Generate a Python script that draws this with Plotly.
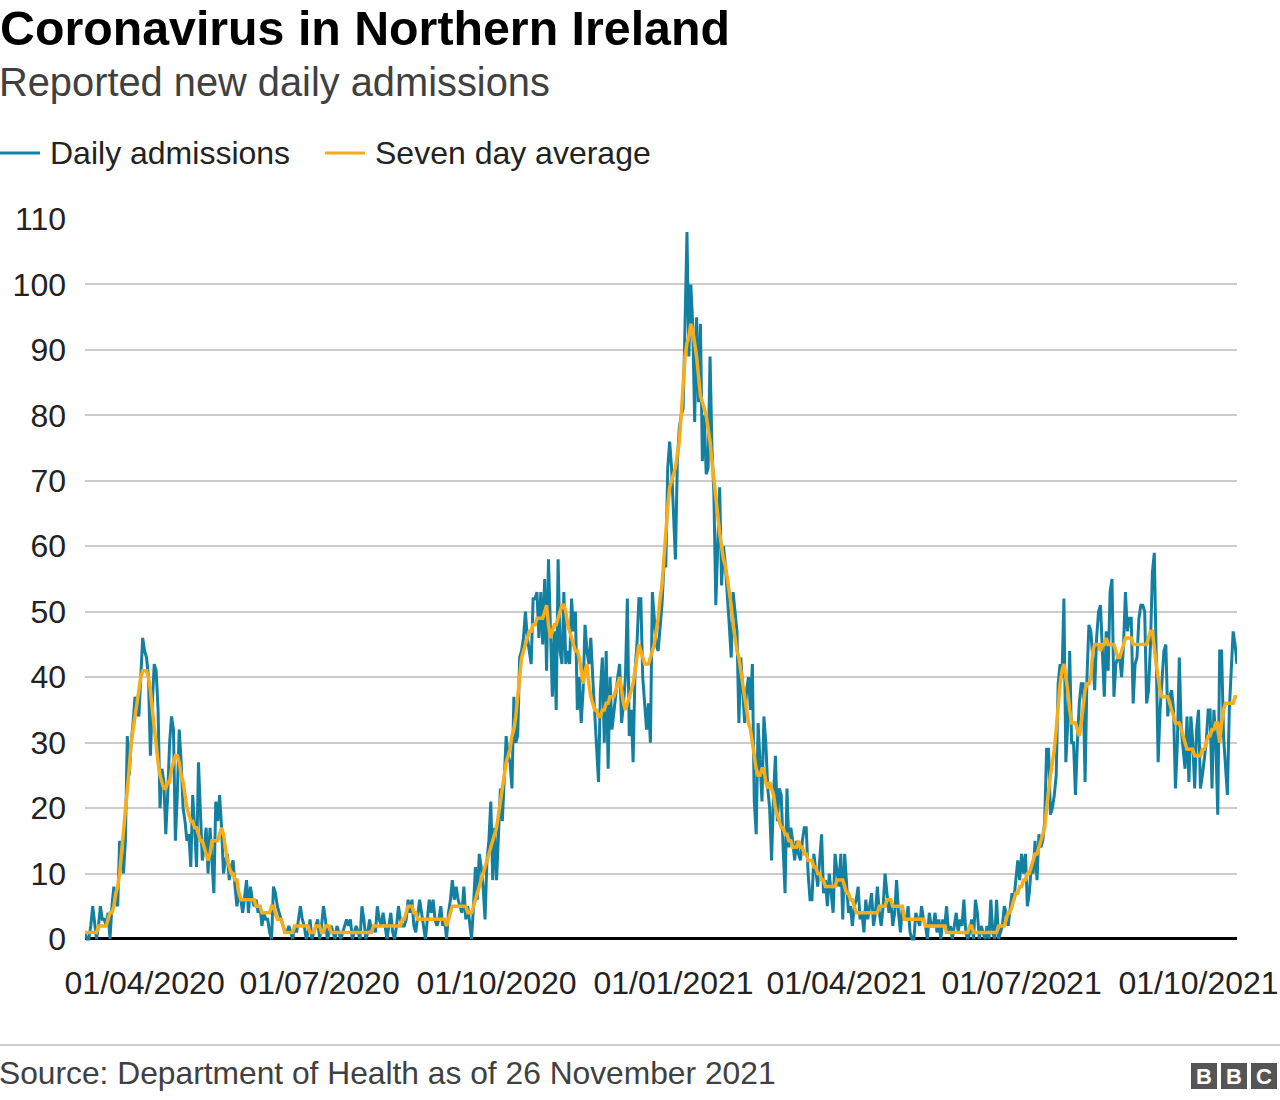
import pandas as pd
import plotly.graph_objects as go

# ---------------- data: reported new daily admissions (one value per day) ----------------
daily_2020_03 = [1,0,0,2,5,2,0,2,5,3,3,2,4,0,5,8,6,5,15,12,10,15,31,25,30,33,37,35,34,40,46]
daily_2020_04 = [44,43,40,28,36,42,41,35,20,26,24,16,22,30,34,32,15,22,32,27,20,18,15,16,11,22,17,11,27,18]
daily_2020_05 = [12,14,17,10,17,12,7,21,18,22,17,10,12,13,9,11,12,8,5,7,6,4,7,9,4,8,6,5,6,4,5]
daily_2020_06 = [2,4,3,3,1,0,8,7,5,4,3,2,1,1,2,1,0,2,1,3,5,3,2,0,1,3,0,1,2,3]
daily_2020_07 = [0,2,5,3,0,1,2,1,0,2,1,0,1,2,3,2,3,0,1,2,1,0,5,3,0,1,3,1,2,1,5]
daily_2020_08 = [3,2,4,2,0,2,4,1,0,2,5,3,2,2,3,6,4,6,2,1,4,6,4,2,0,3,6,4,6,3,2]
daily_2020_09 = [3,5,2,3,0,4,6,9,6,8,6,5,4,8,3,5,2,0,5,11,6,13,11,8,3,12,15,21,9,17]
daily_2020_10 = [9,16,23,18,25,31,28,27,23,37,30,31,43,44,46,50,46,44,42,52,52,53,46,53,45,55,41,58,48,37,47]
daily_2020_11 = [35,58,44,42,53,42,44,42,52,47,50,35,40,33,38,48,44,42,46,40,35,30,24,38,43,30,44,26,40,32]
daily_2020_12 = [35,37,40,42,33,36,40,52,31,35,27,41,45,52,52,40,36,32,36,30,53,49,45,44,47,51,57,57,72,76,72]
daily_2021_01 = [65,58,73,78,80,81,94,108,89,100,94,79,95,82,94,73,80,71,72,89,75,68,51,60,69,54,60,57,53,48,43]
daily_2021_02 = [53,50,47,33,43,38,33,38,40,35,42,21,16,33,27,21,34,30,23,20,12,22,28,18,23,22,14,7]
daily_2021_03 = [23,14,17,15,12,15,13,12,15,17,17,10,6,6,13,10,8,12,16,7,9,5,10,7,4,13,10,8,13,3,13]
daily_2021_04 = [8,4,5,2,5,6,8,3,4,1,6,3,5,7,2,4,8,4,2,5,10,7,4,6,2,4,9,4,1,5]
daily_2021_05 = [3,3,5,1,0,0,4,3,2,5,3,2,0,4,2,2,4,1,3,0,3,2,5,1,2,0,2,4,1,3,2]
daily_2021_06 = [6,1,0,1,3,0,6,4,0,2,1,0,2,0,6,1,0,6,0,1,2,5,4,2,5,7,6,9,12,9]
daily_2021_07 = [13,10,13,5,7,11,10,15,9,16,14,15,18,29,29,19,20,22,25,39,42,40,52,27,33,44,30,30,22,30,36]
daily_2021_08 = [39,39,24,40,48,47,43,38,46,50,51,44,37,47,41,53,55,37,42,43,43,40,45,53,47,49,49,36,42,43,49]
daily_2021_09 = [51,51,50,36,38,45,56,59,43,27,35,40,44,45,34,37,38,35,23,30,43,32,29,26,34,24,34,30,23,32]
daily_2021_10 = [35,23,25,28,30,35,35,23,35,30,19,44,44,31,26,22,35,41,47,45,42]

# ---------------- data: seven day average (one value per day) ----------------
avg_2020_03 = [1,1,1,1,1,1,1,2,2,2,2,2,3,4,4,5,7,8,10,13,16,20,23,26,30,32,34,36,38,40,41]
avg_2020_04 = [41,41,40,38,35,32,30,27,25,24,23,23,24,24,26,27,28,28,27,25,24,22,20,19,18,18,17,17,16,15]
avg_2020_05 = [15,14,13,12,13,15,15,15,15,16,17,16,14,12,11,10,10,9,9,7,6,6,6,6,6,6,6,6,5,5,5]
avg_2020_06 = [4,4,4,4,4,5,5,4,3,3,3,2,1,1,1,1,1,2,2,2,2,2,2,2,2,1,1,1,2,2]
avg_2020_07 = [2,1,1,2,2,2,1,1,1,1,1,1,1,1,1,1,1,1,1,1,1,1,1,1,1,1,1,1,2,2,2]
avg_2020_08 = [2,2,2,2,2,2,2,2,2,2,2,2,3,3,4,5,5,5,4,4,3,3,3,3,3,3,3,3,3,3,3]
avg_2020_09 = [3,3,3,3,2,3,4,5,5,5,5,5,5,5,5,4,4,4,5,6,7,8,9,10,11,12,13,14,15,16]
avg_2020_10 = [17,19,21,23,25,27,28,29,31,32,34,37,41,43,44,45,46,47,47,48,48,49,49,49,49,50,51,48,46,47,48]
avg_2020_11 = [48,49,50,51,51,50,48,47,46,45,44,44,43,41,39,41,42,39,37,36,35,35,34,34,35,35,36,36,37,37]
avg_2020_12 = [37,38,39,40,38,36,35,36,37,38,39,41,43,45,44,43,42,42,42,43,44,45,47,49,52,54,58,63,66,69,70]
avg_2021_01 = [71,72,74,76,80,85,89,91,92,94,93,91,89,86,83,82,81,80,78,76,73,70,67,64,62,60,58,57,55,53,51]
avg_2021_02 = [48,46,44,43,41,39,37,35,33,32,30,28,26,25,25,26,26,24,23,24,23,22,20,19,18,17,17,16]
avg_2021_03 = [16,15,15,14,14,14,15,14,14,13,13,12,12,12,11,11,10,10,9,9,8,8,8,8,8,8,9,9,9,9,8]
avg_2021_04 = [7,7,6,6,5,4,4,4,4,4,4,4,4,4,4,4,4,5,5,5,5,6,6,6,5,5,5,5,5,5]
avg_2021_05 = [3,3,3,3,3,3,3,3,3,3,3,2,2,2,2,2,2,2,2,2,2,2,1,1,1,1,1,1,1,1,1]
avg_2021_06 = [1,1,1,2,2,1,1,1,1,1,1,1,1,1,1,1,1,1,2,2,2,2,3,4,4,5,6,7,7,8]
avg_2021_07 = [8,9,9,10,10,11,12,13,13,14,15,16,17,20,23,25,27,29,32,36,39,41,42,40,38,35,33,33,33,32,31]
avg_2021_08 = [33,36,38,39,39,40,44,45,45,45,44,45,45,46,45,45,45,45,44,43,43,44,45,46,46,46,46,45,45,45,45]
avg_2021_09 = [45,45,45,45,46,47,47,44,42,40,38,37,37,37,37,36,35,34,33,33,33,32,31,30,29,29,29,29,28,28]
avg_2021_10 = [28,28,29,29,30,31,31,32,32,33,33,30,33,35,36,36,36,36,36,37,37]

start_date = "2020-03-01"
end_date = "2021-10-21"

tick_dates = ["2020-04-01", "2020-07-01", "2020-10-01", "2021-01-01",
              "2021-04-01", "2021-07-01", "2021-10-01"]
tick_labels = ["01/04/2020", "01/07/2020", "01/10/2020", "01/01/2021",
               "01/04/2021", "01/07/2021", "01/10/2021"]
y_ticks = [0, 10, 20, 30, 40, 50, 60, 70, 80, 90, 100, 110]

title_text = "Coronavirus in Northern Ireland"
subtitle_text = "Reported new daily admissions"
legend_names = ["Daily admissions", "Seven day average"]
source_text = "Source: Department of Health as of 26 November 2021"

# ---------------- assemble ----------------
daily = (daily_2020_03 + daily_2020_04 + daily_2020_05 + daily_2020_06 + daily_2020_07 +
         daily_2020_08 + daily_2020_09 + daily_2020_10 + daily_2020_11 + daily_2020_12 +
         daily_2021_01 + daily_2021_02 + daily_2021_03 + daily_2021_04 + daily_2021_05 +
         daily_2021_06 + daily_2021_07 + daily_2021_08 + daily_2021_09 + daily_2021_10)
avg = (avg_2020_03 + avg_2020_04 + avg_2020_05 + avg_2020_06 + avg_2020_07 +
       avg_2020_08 + avg_2020_09 + avg_2020_10 + avg_2020_11 + avg_2020_12 +
       avg_2021_01 + avg_2021_02 + avg_2021_03 + avg_2021_04 + avg_2021_05 +
       avg_2021_06 + avg_2021_07 + avg_2021_08 + avg_2021_09 + avg_2021_10)

daily_dates = pd.date_range(start_date, periods=len(daily), freq="D")
avg_dates = pd.date_range(start_date, periods=len(avg), freq="D")

BLUE = "#1380A1"
ORANGE = "#FAAB18"
FONT = "Liberation Sans, Arial, Helvetica, sans-serif"

W, H = 1280, 1100
ML, MR, MT, MB = 85, 43, 219, 151
PW = W - ML - MR
PH = H - MT - MB


def px_x(px):
    return (px - ML) / PW


def px_y(py):
    return (H - MB - py) / PH


fig = go.Figure()
fig.add_trace(go.Scatter(x=daily_dates, y=daily, mode="lines", name=legend_names[0],
                         line=dict(color=BLUE, width=3), showlegend=False,
                         hoverinfo="skip"))
fig.add_trace(go.Scatter(x=avg_dates, y=avg, mode="lines", name=legend_names[1],
                         line=dict(color=ORANGE, width=3.5), showlegend=False,
                         hoverinfo="skip"))

annotations = [
    dict(text="<b>" + title_text + "</b>", x=px_x(-2), y=px_y(28), xanchor="left",
         yanchor="middle", font=dict(size=48.3, color="#000000", family=FONT)),
    dict(text=subtitle_text, x=px_x(-3), y=px_y(82), xanchor="left", yanchor="middle",
         font=dict(size=39.8, color="#404040", family=FONT)),
    dict(text=legend_names[0], x=px_x(48), y=px_y(153), xanchor="left", yanchor="middle",
         font=dict(size=32, color="#222222", family=FONT)),
    dict(text=legend_names[1], x=px_x(373), y=px_y(153), xanchor="left", yanchor="middle",
         font=dict(size=32, color="#222222", family=FONT)),
    dict(text=source_text, x=px_x(-3), y=px_y(1073), xanchor="left", yanchor="middle",
         font=dict(size=31.75, color="#404040", family=FONT)),
]
for i, letter in enumerate(["B", "B", "C"]):
    cx = 1204 + i * 30
    annotations.append(dict(text="<b>" + letter + "</b>", x=px_x(cx), y=px_y(1076),
                            xanchor="center", yanchor="middle",
                            font=dict(size=22, color="#ffffff", family=FONT)))
for a in annotations:
    a.update(xref="paper", yref="paper", showarrow=False)

shapes = [
    dict(type="line", x0=px_x(0), x1=px_x(40), y0=px_y(153), y1=px_y(153),
         line=dict(color=BLUE, width=3)),
    dict(type="line", x0=px_x(325), x1=px_x(365), y0=px_y(153), y1=px_y(153),
         line=dict(color=ORANGE, width=3)),
    dict(type="line", x0=px_x(0), x1=px_x(1280), y0=px_y(1045), y1=px_y(1045),
         line=dict(color="#bdbdbd", width=1.5)),
]
for i in range(3):
    x0 = 1191 + i * 30
    shapes.append(dict(type="rect", x0=px_x(x0), x1=px_x(x0 + 26), y0=px_y(1089),
                       y1=px_y(1063), fillcolor="#555555", line=dict(width=0)))
for s in shapes:
    s.update(xref="paper", yref="paper", layer="above")

fig.update_layout(
    width=W, height=H,
    autosize=False,
    margin=dict(l=ML, r=MR, t=MT, b=MB, pad=0, autoexpand=False),
    paper_bgcolor="#ffffff", plot_bgcolor="#ffffff",
    font=dict(family=FONT, color="#222222"),
    showlegend=False,
    annotations=annotations,
    shapes=shapes,
    xaxis=dict(type="date", range=[start_date, end_date], showgrid=False,
               zeroline=False, showline=False, ticks="", automargin=False,
               tickvals=tick_dates, ticktext=tick_labels,
               tickfont=dict(size=32, color="#222222", family=FONT),
               ticklabelstandoff=12),
    yaxis=dict(range=[-1.53, 110], tickvals=y_ticks, showgrid=True,
               gridcolor="#cccccc", gridwidth=2, zeroline=True, automargin=False,
               zerolinecolor="#000000", zerolinewidth=3, showline=False,
               ticks="", tickfont=dict(size=32, color="#222222", family=FONT),
               ticklabelstandoff=18),
)

fig.write_html("out.html", config={"displayModeBar": False})
